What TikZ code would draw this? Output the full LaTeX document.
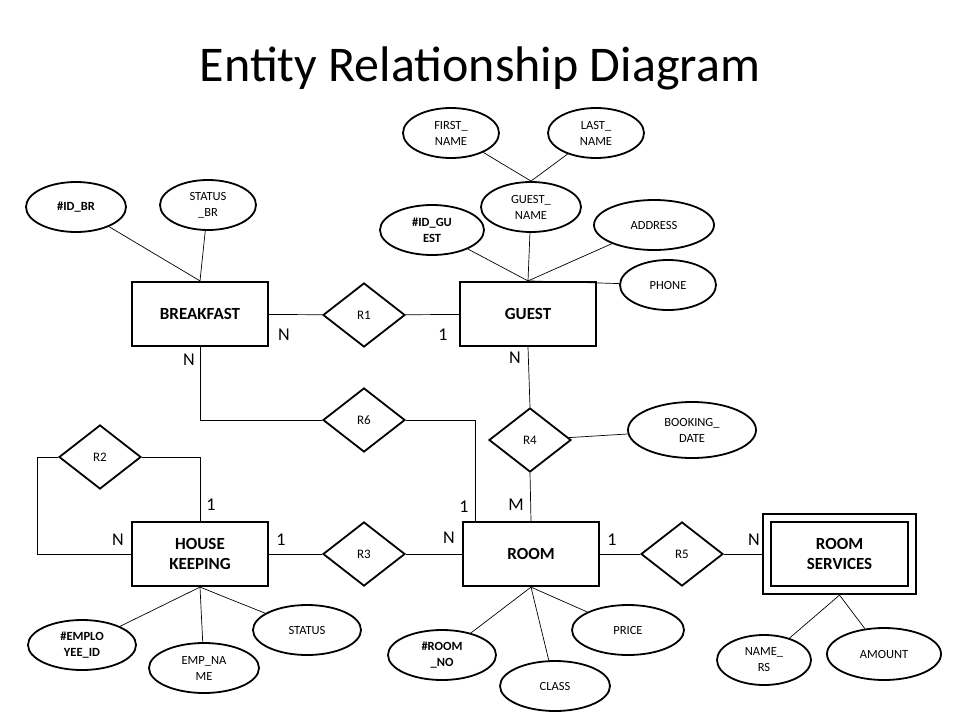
\documentclass[tikz,border=0pt]{standalone}
\usepackage{fontspec}
\setmainfont{Carlito}
\usetikzlibrary{shapes.geometric}
\tikzset{
  entity/.style={draw,line width=2.2pt,minimum width=136pt,minimum height=64pt,inner sep=0pt,align=center,font=\fontsize{17}{20}\selectfont\bfseries},
  attr/.style={draw,ellipse,line width=1.8pt,inner sep=0pt,minimum width=#1,minimum height=50pt,align=center,font=\fontsize{12.5}{16}\selectfont},
  attr/.default=100pt,
  rel/.style={draw,diamond,line width=1.8pt,inner sep=0pt,minimum width=82pt,minimum height=64pt,font=\fontsize{13}{15}\selectfont},
  card/.style={font=\fontsize{18}{20}\selectfont},
  link/.style={line width=0.7pt}
}
\begin{document}
\begin{tikzpicture}[x=1pt,y=-1pt]
	\useasboundingbox (0,0) rectangle (960,720);

	\node[font=\fontsize{50}{56}\selectfont] (title) at (480,68) {Entity Relationship Diagram};

	% entities
	\node[entity] (bf) at (200,314) {BREAKFAST};
	\node[entity] (guest) at (528,314) {GUEST};
	\node[entity] (hk) at (200,554) {HOUSE\\KEEPING};
	\node[entity] (room) at (531,554) {ROOM};
	\node[draw,line width=2.2pt,minimum width=153pt,minimum height=80pt] (rsout) at (839.5,554) {};
	\node[entity,minimum width=137pt] (rs) at (839.5,554) {ROOM\\SERVICES};

	% relations
	\node[rel] (r1) at (364,315) {R1};
	\node[rel] (r6) at (364,420) {R6};
	\node[rel] (r4) at (530,440) {R4};
	\node[rel] (r2) at (100,457) {R2};
	\node[rel] (r3) at (364,554) {R3};
	\node[rel] (r5) at (682,554) {R5};

	% attributes
	\node[attr,font=\fontsize{12.5}{16}\selectfont\bfseries] (idbr) at (76,207) {\#ID\_BR};
	\node[attr=96pt] (statbr) at (208,205) {STATUS\\\_BR};
	\node[attr=96pt] (first) at (451,133) {FIRST\_\\NAME};
	\node[attr=96pt] (last) at (596,133) {LAST\_\\NAME};
	\node[attr] (gname) at (531,207) {GUEST\_\\NAME};
	\node[attr=104pt,font=\fontsize{12.5}{16}\selectfont\bfseries] (idg) at (432,230) {\#ID\_GU\\EST};
	\node[attr=120pt] (addr) at (654,225) {ADDRESS};
	\node[attr=96pt] (phone) at (668,285) {PHONE};
	\node[attr=128pt,minimum height=56pt] (bdate) at (692,430) {BOOKING\_\\DATE};
	\node[attr=108pt,font=\fontsize{12.5}{16}\selectfont\bfseries] (empid) at (82,645) {\#EMPLO\\YEE\_ID};
	\node[attr=110pt] (empname) at (204,668) {EMP\_NA\\ME};
	\node[attr=108pt] (status) at (307,630) {STATUS};
	\node[attr=108pt,font=\fontsize{12.5}{16}\selectfont\bfseries] (roomno) at (442,655) {\#ROOM\\\_NO};
	\node[attr=110pt] (class) at (555,686) {CLASS};
	\node[attr=112pt] (price) at (628,630) {PRICE};
	\node[attr=94pt] (namers) at (764,660) {NAME\_\\RS};
	\node[attr=114pt,minimum height=52pt] (amount) at (884,654) {AMOUNT};

	% attribute links
	\draw[link] (bf.north) -- (idbr);
	\draw[link] (bf.north) -- (statbr);
	\draw[link] (first) -- (gname.north);
	\draw[link] (last) -- (gname.north);
	\foreach \a in {gname,idg,addr,phone}
		\draw[link] (guest.north) -- (\a);
	\draw[link] (r4) -- (bdate);
	\foreach \a in {empid,empname,status}
		\draw[link] (hk.south) -- (\a);
	\foreach \a in {roomno,class,price}
		\draw[link] (room.south) -- (\a);
	\foreach \a in {namers,amount}
		\draw[link] (rsout.south) -- (\a);

	% relation links
	\draw[link] (bf) -- (r1) -- (guest);
	\draw[link] (bf.south) |- (r6.west);
	\draw[link] (r6.east) -| ([xshift=13pt]room.north west);
	\draw[link] (guest.south) -- (r4.north);
	\draw[link] (r4.south) -- (room.north);
	\draw[link] (r2.west) -| (37,554) -- (hk.west);
	\draw[link] (r2.east) -| (hk.north);
	\draw[link] (hk) -- (r3) -- (room);
	\draw[link] (room) -- (r5) -- (rsout);

	% cardinalities
	\node[card] (c1) at (284,335) {N};
	\node[card] (c2) at (443,335) {1};
	\node[card] (c3) at (189,360) {N};
	\node[card] (c4) at (515,358) {N};
	\node[card] (c5) at (464,507) {1};
	\node[card] (c6) at (516,505) {M};
	\node[card] (c7) at (211,505) {1};
	\node[card] (c8) at (118,540) {N};
	\node[card] (c9) at (281,540) {1};
	\node[card] (c10) at (449,538) {N};
	\node[card] (c11) at (612,540) {1};
	\node[card] (c12) at (754,540) {N};
\end{tikzpicture}
\end{document}
